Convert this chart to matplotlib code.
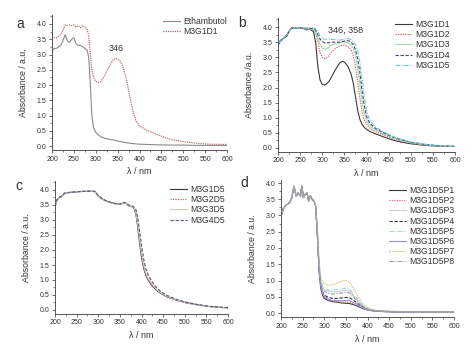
import matplotlib
matplotlib.use("Agg")
import matplotlib.pyplot as plt
from matplotlib.ticker import MultipleLocator

plt.rcParams['font.family'] = ['Liberation Sans', 'DejaVu Sans']

W, H = 474, 351

# ---------------- Panel a data ----------------
wl_a = [200, 205, 210, 215, 220, 225, 230, 235, 240, 245, 250, 255, 260, 265, 270, 275,
        280, 284, 287, 291, 295, 300, 306, 312, 320, 330, 340, 346, 355, 362, 370, 378,
        385, 392, 400, 416, 440, 470, 500, 530, 560, 600]
ethambutol = [3.1, 3.2, 3.2, 3.25, 3.3, 3.45, 3.65, 3.45, 3.4, 3.5, 3.55, 3.35, 3.3, 3.3, 3.25, 3.2,
              3.15, 2.9, 2.2, 1.0, 0.6, 0.45, 0.36, 0.3, 0.26, 0.22, 0.2, 0.18, 0.15, 0.13, 0.11, 0.09,
              0.08, 0.07, 0.06, 0.05, 0.04, 0.03, 0.03, 0.02, 0.02, 0.02]
m3g1d1_a = [3.5, 3.55, 3.55, 3.6, 3.65, 3.8, 3.97, 3.95, 3.97, 3.95, 3.97, 3.9, 3.95, 3.88, 3.95, 3.9,
            3.85, 3.6, 3.1, 2.5, 2.25, 2.12, 2.08, 2.12, 2.3, 2.6, 2.83, 2.88, 2.8, 2.6, 2.2, 1.6,
            1.15, 0.82, 0.66, 0.52, 0.38, 0.22, 0.14, 0.09, 0.06, 0.05]

# ---------------- Panel b data ----------------
wl_b = [200, 205, 210, 215, 220, 225, 230, 240, 250, 260, 265, 270, 275, 280, 285, 290, 295,
        300, 305, 310, 315, 320, 330, 340, 345, 350, 358, 365, 370, 375, 380, 385, 390, 395,
        400, 405, 410, 420, 440, 460, 480, 500, 530, 560, 600]
b_d1 = [3.45, 3.55, 3.6, 3.65, 3.7, 3.85, 3.97, 3.96, 3.97, 3.94, 3.9, 3.95, 3.9, 3.85, 3.5, 2.7, 2.25,
        2.1, 2.08, 2.12, 2.2, 2.32, 2.6, 2.82, 2.86, 2.84, 2.7, 2.45, 2.15, 1.7, 1.25, 0.95, 0.78, 0.68,
        0.62, 0.57, 0.53, 0.47, 0.36, 0.26, 0.19, 0.14, 0.09, 0.06, 0.05]
b_d2 = [3.5, 3.55, 3.6, 3.7, 3.75, 3.85, 3.95, 3.96, 3.98, 3.95, 3.92, 3.95, 3.92, 3.9, 3.8, 3.5, 3.15,
        3.0, 2.95, 2.97, 3.05, 3.15, 3.3, 3.38, 3.4, 3.4, 3.35, 3.25, 3.05, 2.7, 2.2, 1.65, 1.2, 0.92,
        0.78, 0.7, 0.63, 0.54, 0.42, 0.31, 0.22, 0.16, 0.1, 0.07, 0.05]
b_d3 = [3.5, 3.55, 3.6, 3.7, 3.75, 3.85, 3.95, 3.96, 3.98, 3.96, 3.93, 3.96, 3.93, 3.92, 3.85, 3.65, 3.42,
        3.3, 3.27, 3.28, 3.33, 3.4, 3.45, 3.48, 3.5, 3.5, 3.48, 3.4, 3.3, 3.05, 2.65, 2.1, 1.55, 1.15,
        0.9, 0.78, 0.7, 0.6, 0.46, 0.34, 0.25, 0.18, 0.11, 0.07, 0.05]
b_d4 = [3.4, 3.5, 3.6, 3.65, 3.75, 3.85, 3.95, 3.96, 3.98, 3.96, 3.95, 3.97, 3.95, 3.95, 3.9, 3.75, 3.6,
        3.52, 3.48, 3.47, 3.48, 3.5, 3.5, 3.5, 3.52, 3.53, 3.55, 3.5, 3.42, 3.25, 2.95, 2.5, 1.9, 1.4,
        1.05, 0.88, 0.78, 0.65, 0.49, 0.36, 0.27, 0.19, 0.12, 0.08, 0.05]
b_d5 = [3.45, 3.5, 3.6, 3.65, 3.75, 3.85, 3.95, 3.97, 3.98, 3.97, 3.96, 3.98, 3.97, 3.97, 3.95, 3.85, 3.7,
        3.62, 3.6, 3.6, 3.6, 3.6, 3.58, 3.57, 3.58, 3.6, 3.62, 3.58, 3.52, 3.4, 3.2, 2.85, 2.3, 1.7,
        1.25, 1.0, 0.86, 0.7, 0.52, 0.38, 0.28, 0.2, 0.13, 0.08, 0.05]

# ---------------- Panel c data ----------------
wl_c = [200, 204, 208, 215, 223, 240, 260, 280, 292, 300, 310, 320, 330, 340, 350, 356, 362,
        370, 378, 383, 387, 391, 395, 400, 405, 410, 416, 425, 435, 445, 460, 480, 500, 530,
        560, 600]
c_g1 = [3.44, 3.65, 3.72, 3.78, 3.9, 3.93, 3.95, 3.96, 3.95, 3.8, 3.7, 3.62, 3.58, 3.54, 3.52, 3.55, 3.57,
        3.48, 3.44, 3.38, 3.2, 2.8, 2.3, 1.75, 1.4, 1.15, 0.98, 0.8, 0.65, 0.55, 0.43, 0.33, 0.25, 0.17,
        0.11, 0.07]
c_g2 = [3.48, 3.67, 3.73, 3.8, 3.9, 3.93, 3.95, 3.96, 3.94, 3.78, 3.68, 3.62, 3.57, 3.55, 3.53, 3.56, 3.58,
        3.47, 3.45, 3.4, 3.25, 2.9, 2.4, 1.85, 1.45, 1.2, 1.02, 0.83, 0.67, 0.56, 0.44, 0.33, 0.25, 0.17,
        0.11, 0.07]
c_g3 = [3.46, 3.66, 3.72, 3.79, 3.91, 3.94, 3.96, 3.96, 3.95, 3.79, 3.69, 3.61, 3.57, 3.53, 3.52, 3.55, 3.57,
        3.48, 3.45, 3.4, 3.25, 2.92, 2.45, 1.9, 1.5, 1.22, 1.04, 0.85, 0.68, 0.57, 0.45, 0.34, 0.26, 0.17,
        0.11, 0.07]
c_g4 = [3.45, 3.66, 3.74, 3.8, 3.9, 3.93, 3.95, 3.96, 3.96, 3.82, 3.7, 3.63, 3.58, 3.55, 3.53, 3.57, 3.59,
        3.5, 3.47, 3.43, 3.35, 3.1, 2.7, 2.15, 1.7, 1.38, 1.15, 0.93, 0.74, 0.61, 0.48, 0.36, 0.27, 0.18,
        0.12, 0.08]

# ---------------- Panel d data ----------------
wl_d = [200, 205, 210, 215, 220, 225, 230, 235, 240, 245, 248, 252, 256, 260, 264, 268, 272,
        276, 280, 284, 288, 292, 296, 300, 310, 320, 330, 340, 350, 358, 365, 375, 385, 395,
        405, 420, 440, 470, 500, 550, 600]
d_common_head = [2.97, 3.2, 3.3, 3.35, 3.4, 3.55, 3.9, 3.6, 3.7, 3.6, 3.9, 3.55, 3.65, 3.7, 3.45, 3.6, 3.5,
                 3.45, 3.3]
d_p1 = d_common_head + [2.4, 1.3, 0.75, 0.55, 0.45, 0.38, 0.35, 0.33, 0.31, 0.3, 0.29, 0.27, 0.22,
                        0.16, 0.11, 0.08, 0.06, 0.04, 0.03, 0.03, 0.02, 0.02]
d_p2 = d_common_head + [2.45, 1.35, 0.8, 0.6, 0.5, 0.4, 0.36, 0.35, 0.34, 0.34, 0.33, 0.3, 0.24,
                        0.17, 0.12, 0.08, 0.06, 0.05, 0.04, 0.03, 0.03, 0.03]
d_p3 = d_common_head + [2.55, 1.5, 0.95, 0.8, 0.72, 0.66, 0.65, 0.66, 0.68, 0.7, 0.68, 0.58, 0.42,
                        0.27, 0.17, 0.11, 0.07, 0.05, 0.04, 0.03, 0.03, 0.03]
d_p4 = d_common_head + [2.5, 1.4, 0.85, 0.65, 0.55, 0.48, 0.45, 0.45, 0.46, 0.48, 0.47, 0.42, 0.32,
                        0.21, 0.14, 0.09, 0.06, 0.05, 0.04, 0.03, 0.03, 0.03]
d_p5 = d_common_head + [2.55, 1.55, 1.0, 0.85, 0.76, 0.7, 0.7, 0.72, 0.74, 0.76, 0.74, 0.63, 0.45,
                        0.28, 0.18, 0.11, 0.07, 0.05, 0.04, 0.03, 0.03, 0.03]
d_p6 = d_common_head + [2.45, 1.35, 0.82, 0.62, 0.52, 0.43, 0.39, 0.38, 0.38, 0.39, 0.38, 0.34, 0.27,
                        0.18, 0.12, 0.08, 0.06, 0.05, 0.04, 0.03, 0.03, 0.03]
d_p7 = d_common_head + [2.6, 1.6, 1.1, 0.97, 0.9, 0.86, 0.87, 0.92, 0.98, 1.0, 0.96, 0.82, 0.58,
                        0.35, 0.21, 0.13, 0.08, 0.06, 0.05, 0.04, 0.03, 0.03]
d_p8 = d_common_head + [2.5, 1.45, 0.9, 0.75, 0.67, 0.6, 0.58, 0.6, 0.62, 0.64, 0.62, 0.53, 0.38,
                        0.24, 0.15, 0.1, 0.07, 0.05, 0.04, 0.03, 0.03, 0.03]

fig = plt.figure(figsize=(W / 100, H / 100), dpi=100)
fig.patch.set_facecolor('white')

AX_C = '#555555'
TXT_C = '#333333'


def make_ax(x0, x1, y4, y0, ymax=4.3):
    # x0/x1: pixel positions of 200/600; y4/y0: pixel positions of 4.0 / 0.0 (from top)
    ppu = (y0 - y4) / 4.0
    ymin = -0.13
    top = y4 - (ymax - 4.0) * ppu
    bot = y0 - ymin * ppu
    ax = fig.add_axes([x0 / W, 1 - bot / H, (x1 - x0) / W, (bot - top) / H])
    ax.patch.set_alpha(0)
    ax.set_xlim(200, 600)
    ax.set_ylim(ymin, ymax)
    for s in ['top', 'right']:
        ax.spines[s].set_visible(False)
    for s in ['left', 'bottom']:
        ax.spines[s].set_color(AX_C)
        ax.spines[s].set_linewidth(0.7)
    ax.xaxis.set_major_locator(MultipleLocator(50))
    ax.xaxis.set_minor_locator(MultipleLocator(25))
    ax.yaxis.set_minor_locator(MultipleLocator(0.25))
    ax.set_yticks([0, 0.5, 1, 1.5, 2, 2.5, 3, 3.5, 4.0])
    ax.set_yticklabels(['0.0', '0.5', '1.0', '1.5', '2.0', '2.5', '3.0', '3.5', '4.0'])
    ax.tick_params(which='major', direction='out', length=2.5, width=0.6, colors=AX_C,
                   labelsize=5, labelcolor=TXT_C, pad=1.5)
    ax.tick_params(which='minor', direction='out', length=1.5, width=0.5, colors=AX_C)
    ax.set_xlabel('λ / nm', fontsize=6.5, color=TXT_C, labelpad=3.5)
    return ax


def legend(ax, px, py):
    ax.legend(loc='upper left', bbox_to_anchor=(px / W, 1 - py / H),
              bbox_transform=fig.transFigure, frameon=False, fontsize=6.2,
              handlelength=2.0, handletextpad=0.3, labelspacing=0.14, borderpad=0,
              borderaxespad=0, labelcolor=TXT_C)


# ---- a ----
axa = make_ax(52, 227, 24, 146)
axa.plot(wl_a, ethambutol, color='#8a8a8a', lw=0.8, ls='-', label='Ethambutol')
axa.plot(wl_a, m3g1d1_a, color='#b87070', lw=0.9, ls=(0, (1, 0.8)), label='M3G1D1')
axa.set_ylabel('Absorbance / a.u.', fontsize=6.3, color=TXT_C, labelpad=6)
axa.annotate('346', xy=(346, 3.05), ha='center', va='bottom', fontsize=6.5, color=TXT_C)
legend(axa, 163, 17)
fig.text(20 / W, 1 - 24 / H, 'a', fontsize=10, color=TXT_C, ha='center', va='center')

# ---- b ----
axb = make_ax(278, 455, 27, 148)
axb.plot(wl_b, b_d1, color='#3a3a3a', lw=0.8, ls='-', label='M3G1D1')
axb.plot(wl_b, b_d2, color='#d06060', lw=0.8, ls=(0, (1.2, 1)), label='M3G1D2')
axb.plot(wl_b, b_d3, color='#a8d8a8', lw=0.8, ls='-', label='M3G1D3')
axb.plot(wl_b, b_d4, color='#404a78', lw=0.8, ls=(0, (3, 1.5)), label='M3G1D4')
axb.plot(wl_b, b_d5, color='#6cc8e0', lw=0.8, ls=(0, (4, 1.2, 1, 1.2)), label='M3G1D5')
axb.set_ylabel('Absorbance /a.u.', fontsize=6.3, color=TXT_C, labelpad=6)
axb.annotate('346, 358', xy=(352, 3.75), ha='center', va='bottom', fontsize=6.5, color=TXT_C)
legend(axb, 395, 20)
fig.text(242 / W, 1 - 23 / H, 'b', fontsize=10, color=TXT_C, ha='center', va='center')

# ---- c ----
axc = make_ax(55, 228, 190, 310)
axc.plot(wl_c, c_g1, color='#3a3a3a', lw=0.8, ls='-', label='M3G1D5')
axc.plot(wl_c, c_g2, color='#d07070', lw=0.8, ls=(0, (1.2, 1)), label='M3G2D5')
axc.plot(wl_c, c_g3, color='#d8c8b8', lw=0.8, ls='-', label='M3G3D5')
axc.plot(wl_c, c_g4, color='#4a5a80', lw=0.8, ls=(0, (3, 1.5)), label='M3G4D5')
axc.set_ylabel('Absorbance / a.u.', fontsize=6.3, color=TXT_C, labelpad=6)
legend(axc, 170, 185)
fig.text(19 / W, 1 - 186 / H, 'c', fontsize=10, color=TXT_C, ha='center', va='center')

# ---- d ----
axd = make_ax(281, 454, 183, 313, ymax=4.1)
axd.plot(wl_d, d_p1, color='#3a3a3a', lw=0.8, ls='-', label='M3G1D5P1')
axd.plot(wl_d, d_p2, color='#d08080', lw=0.8, ls=(0, (1.2, 1)), label='M3G1D5P2')
axd.plot(wl_d, d_p3, color='#d0d0d0', lw=0.8, ls='-', label='M3G1D5P3')
axd.plot(wl_d, d_p4, color='#303060', lw=0.8, ls=(0, (3, 1.5)), label='M3G1D5P4')
axd.plot(wl_d, d_p5, color='#a8d4e4', lw=0.8, ls=(0, (4, 1.2, 1, 1.2)), label='M3G1D5P5')
axd.plot(wl_d, d_p6, color='#9a90d0', lw=0.8, ls='-', label='M3G1D5P6')
axd.plot(wl_d, d_p7, color='#c8b870', lw=0.8, ls=(0, (1.2, 1)), label='M3G1D5P7')
axd.plot(wl_d, d_p8, color='#a0a0a8', lw=0.8, ls=(0, (4, 1.2, 1, 1.2)), label='M3G1D5P8')
axd.set_ylabel('Absorbance / a.u.', fontsize=6.3, color=TXT_C, labelpad=6)
legend(axd, 389, 186)
fig.text(244 / W, 1 - 183 / H, 'd', fontsize=10, color=TXT_C, ha='center', va='center')

fig.savefig('out.png', dpi=100, facecolor='white')
